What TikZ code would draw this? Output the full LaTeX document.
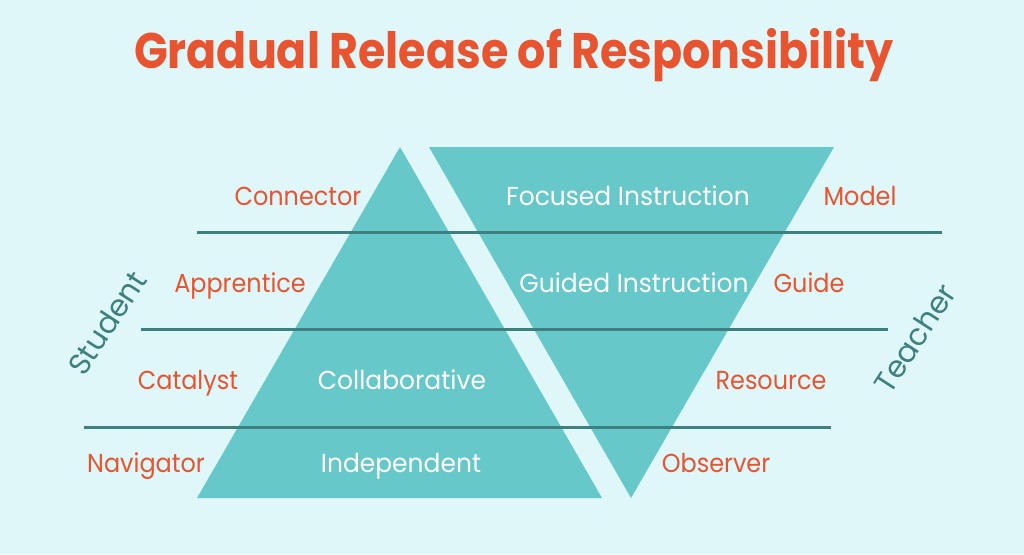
\documentclass[tikz,border=0pt]{standalone}
\usepackage{fontspec}
\setmainfont{Poppins}
\usepackage{tikz}
\usetikzlibrary{shapes,arrows}
\definecolor{bgcyan}{HTML}{E0F7F9}
\definecolor{wedgeteal}{HTML}{67C8CA}
\definecolor{darkteal}{HTML}{3E7F7F}
\definecolor{roleorange}{HTML}{E8542F}
\tikzset{
  role/.style={anchor=base, text=roleorange, font=\fontsize{26}{28}\selectfont, inner sep=0pt, xscale=0.92, transform shape},
  stage/.style={anchor=base, text=white, font=\fontsize{26}{28}\selectfont, inner sep=0pt, xscale=0.96, transform shape},
  side/.style={text=darkteal, font=\fontsize{30}{32}\selectfont, rotate=57, inner sep=0pt},
  band/.style={draw=darkteal, line width=3pt},
  wedge/.style={fill=wedgeteal}
}
\begin{document}
\begin{tikzpicture}[x=1pt, y=-1pt]
    \fill[bgcyan] (0, 0) rectangle (1024, 554);
    \useasboundingbox (0, 0) rectangle (1024, 554);
    \node[anchor=base, text=roleorange, font=\fontsize{50}{54}\selectfont\bfseries, inner sep=0pt, xscale=0.887, transform shape] (title) at (514, 68) {Gradual Release of Responsibility};
    \fill[wedge] (197, 498) -- (400, 147) -- (602, 498) -- cycle;
    \fill[wedge] (429, 147) -- (834, 147) -- (631, 498) -- cycle;
    \draw[band] (197, 232) -- (942, 232);
    \draw[band] (141, 329) -- (888, 329);
    \draw[band] (84, 427) -- (831, 427);
    \node[role] (connector) at (298, 205) {Connector};
    \node[role] (apprentice) at (240, 292) {Apprentice};
    \node[role] (catalyst) at (188, 389) {Catalyst};
    \node[role] (navigator) at (146, 472) {Navigator};
    \node[stage] (focused) at (628, 205) {Focused Instruction};
    \node[stage] (guided) at (634, 292) {Guided Instruction};
    \node[stage] (collab) at (402, 389) {Collaborative};
    \node[stage] (indep) at (401, 472) {Independent};
    \node[role] (model) at (860, 205) {Model};
    \node[role] (guide) at (809, 292) {Guide};
    \node[role] (resource) at (771, 389) {Resource};
    \node[role] (observer) at (716, 472) {Observer};
    \node[side] (student) at (107, 323) {Student};
    \node[side] (teacher) at (915, 338) {Teacher};
  \end{tikzpicture}
\end{document}
